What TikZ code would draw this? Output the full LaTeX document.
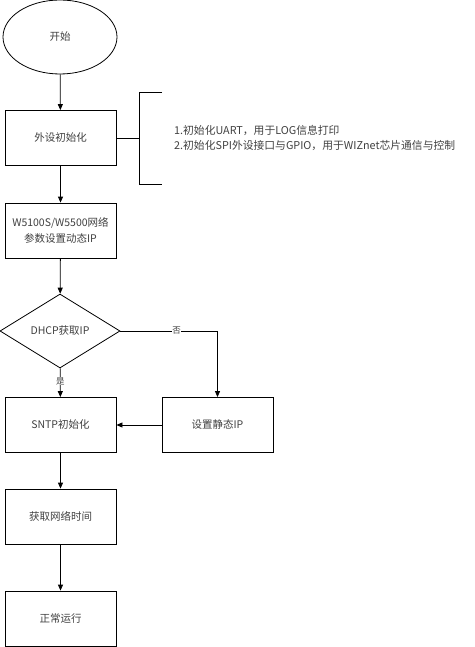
\documentclass[tikz,border=0pt]{standalone}
\usepackage{fontspec}
\newfontfamily\cjk{Noto Sans CJK SC}
\usetikzlibrary{arrows.meta,shapes.geometric}

\begin{document}
\begin{tikzpicture}[x=1pt,y=-1pt,
    schritt/.style={draw,line width=0.8pt,minimum width=111pt,minimum height=55pt,inner sep=0pt,align=center,text=black!75,font=\cjk\fontsize{10.5}{15.5}\selectfont},
    pfeil/.style={-{Triangle[length=6pt,width=5pt]},line width=0.8pt},
    marke/.style={fill=white,inner sep=0.5pt,text=black!75,font=\cjk\fontsize{8.5}{10}\selectfont}]
    \useasboundingbox (0,0) rectangle (474,647); % Rahmen
    \node[schritt,ellipse,minimum width=114pt,minimum height=74pt] (start) at (60,37) {开始};
    \node[schritt] (init) at (60.5,138) {外设初始化};
    \node[schritt] (netz) at (60.5,230.5) {W5100S/W5500网络\\参数设置动态IP};
    \node[schritt,diamond,minimum width=120pt,minimum height=74pt] (dhcp) at (60,331) {DHCP获取IP};
    \node[schritt] (sntp) at (60.5,425) {SNTP初始化};
    \node[schritt] (static) at (217.5,425) {设置静态IP};
    \node[schritt] (zeit) at (60.5,516.5) {获取网络时间};
    \node[schritt] (lauf) at (60.5,618.5) {正常运行};
    \node[anchor=west,align=left,inner sep=0pt,text=black!75,font=\cjk\fontsize{10.8}{15}\selectfont] (notiz) at (174,138)
          {1.初始化UART，用于LOG信息打印\\2.初始化SPI外设接口与GPIO，用于WIZnet芯片通信与控制}; % Anmerkung

    \draw[pfeil] (start) -- (init);
    \draw[pfeil] (init) -- (netz);
    \draw[pfeil] (netz) -- (dhcp);
    \draw[pfeil] (dhcp) -- node[marke,pos=0.45] (ja) {是} (sntp);
    \draw[pfeil] (dhcp.east) -| node[marke,pos=0.29] (nein) {否} (static.north);
    \draw[pfeil] (static) -- (sntp);
    \draw[pfeil] (sntp) -- (zeit);
    \draw[pfeil] (zeit) -- (lauf);

    \coordinate (klammer) at (139,138);
    \draw[line width=0.8pt] (init.east) -- (klammer); % Verbindung
    \draw[line width=0.8pt] (162,92) -- (139,92) -- (139,184) -- (162,184); % Klammer
\end{tikzpicture}
\end{document}
